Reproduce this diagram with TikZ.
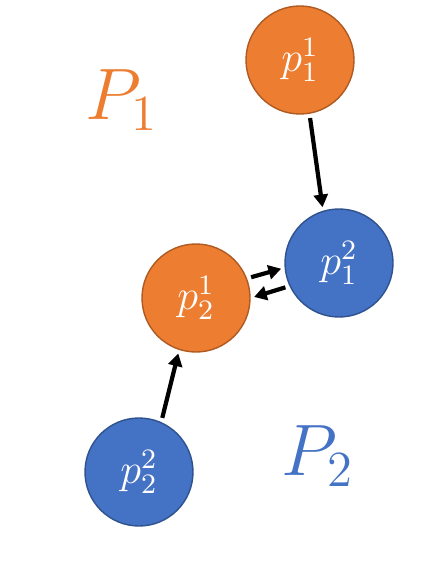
\documentclass[tikz,border=0pt]{standalone}
\usetikzlibrary{arrows.meta}
\definecolor{porange}{HTML}{ED7D31}
\definecolor{porangeline}{HTML}{AE5A21}
\definecolor{pblue}{HTML}{4472C4}
\definecolor{pblueline}{HTML}{2F528F}
\begin{document}
\begin{tikzpicture}[every node/.style={font=\fontsize{12}{14}\selectfont},
  orangedot/.style={circle,draw=porangeline,line width=0.4pt,fill=porange,text=white,minimum size=1.08cm,inner sep=0pt},
  bluedot/.style={circle,draw=pblueline,line width=0.4pt,fill=pblue,text=white,minimum size=1.08cm,inner sep=0pt},
  arr/.style={-{Triangle[length=3.6pt,width=4pt]},line width=1.2pt,shorten <=1.2pt,shorten >=1pt},
  setlabel/.style={font=\fontsize{21}{25}\selectfont}]
\useasboundingbox (0,0) rectangle (4.26,-5.72);
\node[orangedot] (p11) at (3.00,-0.60) {$p_1^1$};
\node[bluedot] (p12) at (3.39,-2.63) {$p_1^2$};
\node[orangedot] (p21) at (1.96,-2.98) {$p_2^1$};
\node[bluedot] (p22) at (1.39,-4.72) {$p_2^2$};
\node[setlabel,text=porange] (P1) at (1.22,-1.00) {$P_1$};
\node[setlabel,text=pblue] (P2) at (3.18,-4.56) {$P_2$};
\draw[arr] (p11.-80) -- (p12.107);
\draw[arr] (p21.21) -- (p12.185);
\draw[arr] (p12.205) -- (p21.0);
\draw[arr] (p22.66) -- (p21.252);
\end{tikzpicture}
\end{document}
